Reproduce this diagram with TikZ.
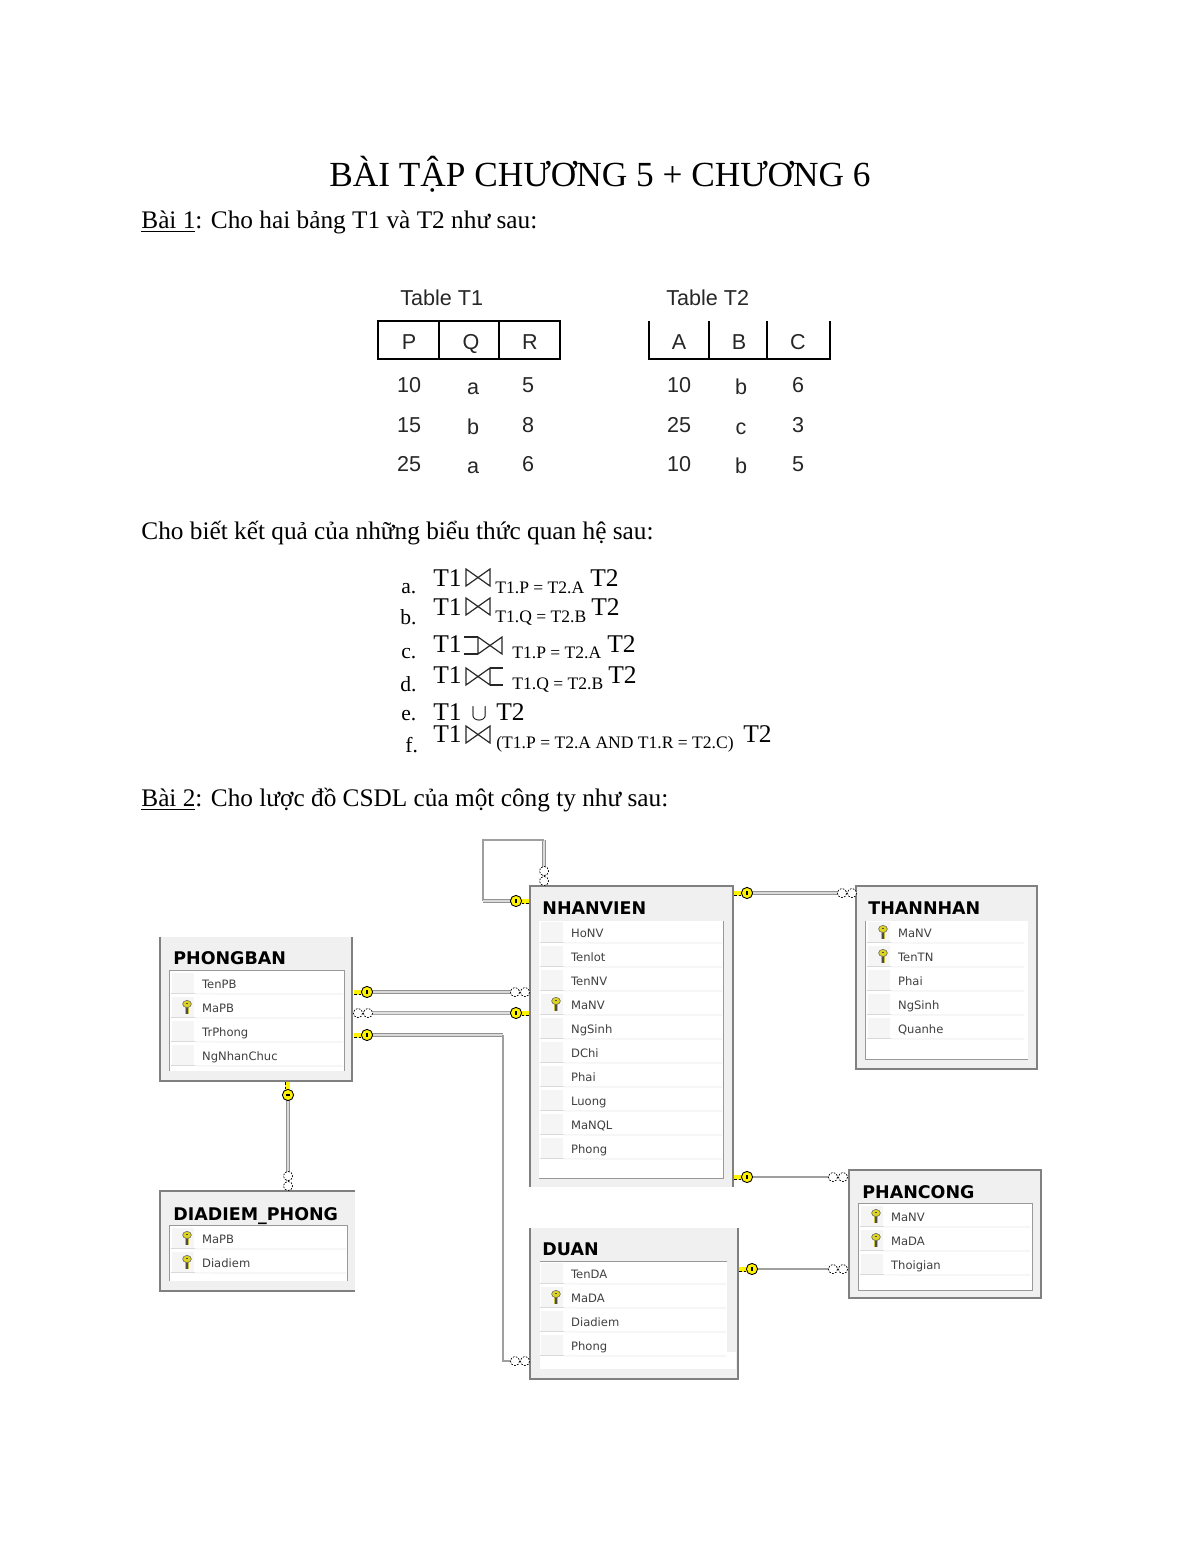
\documentclass[tikz,border=0pt]{standalone}
\usepackage{fontspec}
\setmainfont{Liberation Serif}
\newfontfamily\tablefont{Liberation Sans}
\newfontfamily\erdfont{DejaVu Sans}
\usetikzlibrary{positioning,fit}

\newcommand{\sz}[1]{\fontsize{#1}{#1}\selectfont}

\tikzset{
  % text
  pagetext/.style={anchor=base west,inner sep=0pt,font=\sz{12.9}},
  exprlabel/.style={anchor=base west,inner sep=0pt,font=\sz{11}},
  exprterm/.style={anchor=base west,inner sep=0pt,font=\sz{13}},
  exprsub/.style={anchor=base west,inner sep=0pt,font=\sz{8.95}},
  tabletext/.style={anchor=base,inner sep=0pt,font=\tablefont\sz{11},text=black!85},
  headcell/.style={draw,line width=.8pt,inner sep=0pt},
  joinline/.style={draw=black!85,line width=.6pt},
  % schema
  tablebox/.style={fill=gray!12,inner sep=0pt},
  listbox/.style={fill=white,inner sep=0pt},
  tableline/.style={draw=gray,line width=1pt},
  listline/.style={draw=gray!80,line width=.7pt},
  tablename/.style={anchor=west,inner sep=0pt,font=\erdfont\bfseries\sz{8.9},text height=6.6pt,text depth=.4pt},
  rowsel/.style={fill=gray!8,inner sep=0pt,minimum width=11.7pt,minimum height=10.7pt},
  rowtext/.style={anchor=west,inner sep=0pt,font=\erdfont\sz{5.9},text=black!75,text height=1.5ex,text depth=.3ex},
  relline/.style={draw=gray!85,line width=.5pt,double=gray!30,double distance=1pt},
  thinrel/.style={draw=gray!70,line width=.5pt,double=gray!25,double distance=.7pt},
  plainrel/.style={draw=gray!75,line width=.8pt},
  keymark/.pic={
    \fill[yellow] (-13,-2.2) rectangle (-3,2.6);
    \draw[black,dash pattern=on 1.4pt off 1pt,line width=.4pt] (-13,2.6) -- (-3,2.6);
    \draw[black,line width=.45pt,fill=yellow] (0,0) circle (5.6);
    \fill[black] (-.7,-2) rectangle (.7,2);
  },
  infmark/.pic={
    \draw[black,line width=.35pt,dash pattern=on .9pt off .7pt,fill=white] (-5,0) circle (4.6);
    \draw[black,line width=.35pt,dash pattern=on .9pt off .7pt,fill=white] (5,0) circle (4.6);
  },
  rowkey/.pic={
    \fill[yellow!75!black] (2.2,-1) rectangle (5.8,7);
    \draw[black!60,line width=.3pt,fill=yellow!85!black] (4,-3) ellipse (4.4 and 3.6);
    \fill[black!70] (3.4,1) rectangle (4.6,7);
    \fill[black!70] (3,-4) rectangle (5,-2.6);
  },
  joinmark/.pic={
    \draw[joinline] (0,0) -- (0,-17) -- (24,0) -- (24,-17) -- cycle;
  },
  ljoinmark/.pic={
    \draw[joinline] (0,0) -- (0,-17) -- (24,0) -- (24,-17) -- cycle;
    \draw[joinline] (-14,0) -- (0,0) (-14,-17) -- (0,-17);
  },
  rjoinmark/.pic={
    \draw[joinline] (0,0) -- (0,-17) -- (24,0) -- (24,-17) -- cycle;
    \draw[joinline] (24,0) -- (37,0) (24,-17) -- (37,-17);
  },
}

% prefix, selector x, first row y, right end of row, column names
\newcommand{\tablerows}[5]{
  \foreach \colname [count=\i from 0] in {#5} {
    \node (#1\i) [rowsel] at (#2,{#3+24*\i}) {};
    \node (#1t\i) [rowtext,right=3.5pt of #1\i] {\colname};
    \draw[gray!30,line width=.5pt] (#1\i.south west) -- (#1\i.south east);
    \draw[gray!10,line width=.6pt] (#1\i.south east) -- (#4,{#3+24*\i+11});
  }
}

\begin{document}
\begin{tikzpicture}[x=0.51pt,y=-0.51pt]
  \useasboundingbox (0,0) rectangle (1200,1553);

  % heading
  \node (title) [inner sep=0pt,anchor=base,font=\sz{18}] at (600,187) {BÀI TẬP CHƯƠNG 5 + CHƯƠNG 6};
  \node (bai1) [pagetext] at (141,228) {\underline{Bài 1}: Cho hai bảng T1 và T2 như sau:};
  \node (cau) [pagetext] at (141,539) {Cho biết kết quả của những biểu thức quan hệ sau:};
  \node (bai2) [pagetext] at (141,806) {\underline{Bài 2}: Cho lược đồ CSDL của một công ty như sau:};

  % Table T1
  \node (nameT1) [tabletext,anchor=base west] at (400,305) {Table T1};
  \node (P) [headcell,fit={(378,321)(439,359)}] {};
  \node (Q) [headcell,fit={(439,321)(499,359)}] {};
  \node (R) [headcell,fit={(499,321)(560,359)}] {};
  \node (labelP) [tabletext] at (409,349) {P};
  \node (labelQ) [tabletext] at (471,349) {Q};
  \node (labelR) [tabletext] at (530,349) {R};
  \foreach \vp/\vq/\vr/\yy/\yl in {10/a/5/392/394,15/b/8/432/434,25/a/6/471/473} {
    \node (T1p\yy) [tabletext] at (409,\yy) {\vp};
    \node (T1q\yy) [tabletext] at (473,\yl) {\vq};
    \node (T1r\yy) [tabletext] at (528,\yy) {\vr};
  }

  % Table T2
  \node (nameT2) [tabletext,anchor=base west] at (666,305) {Table T2};
  \draw[line width=.8pt] (649,321) |- (830,359) -- (830,321);
  \draw[line width=.8pt] (709,321) -- (709,359) (767,321) -- (767,359);
  \node (labelA) [tabletext] at (679,349) {A};
  \node (labelB) [tabletext] at (739,349) {B};
  \node (labelC) [tabletext] at (798,349) {C};
  \foreach \va/\vb/\vc/\yy/\yl in {10/b/6/392/394,25/c/3/432/434,10/b/5/471/473} {
    \node (T2a\yy) [tabletext] at (679,\yy) {\va};
    \node (T2b\yy) [tabletext] at (741,\yl) {\vb};
    \node (T2c\yy) [tabletext] at (798,\yy) {\vc};
  }

  % bieu thuc
  \node (la) [exprlabel] at (401,593) {a.};
  \node (a1) [exprterm] at (433,586) {T1};
  \pic at (466,586) {joinmark};
  \node (as) [exprsub] at (495,593) {T1.P = T2.A};
  \node (a2) [exprterm] at (590,586) {T2};

  \node (lb) [exprlabel] at (400,624) {b.};
  \node (b1) [exprterm] at (433,615) {T1};
  \pic at (466,615) {joinmark};
  \node (bs) [exprsub] at (495,622) {T1.Q = T2.B};
  \node (b2) [exprterm] at (591,615) {T2};

  \node (lc) [exprlabel] at (401,658) {c.};
  \node (c1) [exprterm] at (433,652) {T1};
  \pic at (478,654) {ljoinmark};
  \node (cs) [exprsub] at (512,658) {T1.P = T2.A};
  \node (c2) [exprterm] at (607,652) {T2};

  \node (ld) [exprlabel] at (400,691) {d.};
  \node (d1) [exprterm] at (433,683) {T1};
  \pic at (466,685) {rjoinmark};
  \node (ds) [exprsub] at (512,689) {T1.Q = T2.B};
  \node (d2) [exprterm] at (608,683) {T2};

  \node (le) [exprlabel] at (401,720) {e.};
  \node (e1) [exprterm] at (433,720) {T1};
  \node (eu) [exprterm,font=\sz{13}] at (471,720) {$\cup$};
  \node (e2) [exprterm] at (496,720) {T2};

  \node (lf) [exprlabel] at (405,752) {f.};
  \node (f1) [exprterm] at (433,742) {T1};
  \pic at (466,743) {joinmark};
  \node (fs) [exprsub] at (496,748) {(T1.P = T2.A AND T1.R = T2.C)};
  \node (f2) [exprterm] at (743,742) {T2};

  % bang
  \node (PHONGBAN) [tablebox,fit={(160,937)(352,1081)}] {};
  \node (DIADIEM) [tablebox,fit={(160,1191)(355,1291)}] {};
  \node (NHANVIEN) [tablebox,fit={(530,886)(733,1187)}] {};
  \node (THANNHAN) [tablebox,fit={(856,886)(1037,1069)}] {};
  \node (PHANCONG) [tablebox,fit={(849,1170)(1041,1298)}] {};
  \node (DUAN) [tablebox,fit={(530,1228)(738,1379)}] {};

  \draw[tableline] (PHONGBAN.north west) |- (PHONGBAN.south east) -- (PHONGBAN.north east);
  \draw[tableline] (DIADIEM.north east) -- (DIADIEM.north west) |- (DIADIEM.south east);
  \draw[tableline] (NHANVIEN.south west) |- (NHANVIEN.north east) -- (NHANVIEN.south east);
  \draw[tableline] (THANNHAN.north west) rectangle (THANNHAN.south east);
  \draw[tableline] (PHANCONG.north west) rectangle (PHANCONG.south east);
  \draw[tableline] (DUAN.north west) |- (DUAN.south east) -- (DUAN.north east);

  \node (PBlist) [listbox,fit={(170,971)(344,1071)}] {};
  \node (DDlist) [listbox,fit={(170,1226)(347,1281)}] {};
  \node (NVlist) [listbox,fit={(539,921)(723,1178)}] {};
  \node (TNlist) [listbox,fit={(866,921)(1028,1059)}] {};
  \node (PClist) [listbox,fit={(859,1204)(1032,1290)}] {};
  \node (DAlist) [listbox,fit={(540,1262)(727,1352)}] {};
  \node (DAfoot) [listbox,fit={(540,1352)(736,1369)}] {};

  \draw[listline] (PBlist.south west) |- (PBlist.north east) -- (PBlist.south east);
  \draw[listline] (DDlist.south west) |- (DDlist.north east) -- (DDlist.south east);
  \draw[listline] (NVlist.north east) |- (NVlist.south west);
  \draw[listline] (TNlist.north west) |- (TNlist.south east);
  \draw[listline] (PClist.north west) rectangle (PClist.south east);
  \draw[listline] (DAlist.north west) -- (DAlist.north east);

  \node (PBname) [tablename] at (173,958) {PHONGBAN};
  \node (DDname) [tablename] at (173,1214) {DIADIEM\_PHONG};
  \node (NVname) [tablename] at (542,908) {NHANVIEN};
  \node (TNname) [tablename] at (868,908) {THANNHAN};
  \node (PCname) [tablename] at (862,1192) {PHANCONG};
  \node (DAname) [tablename] at (542,1249) {DUAN};

  \tablerows{PB}{183}{983}{343}{TenPB,MaPB,TrPhong,NgNhanChuc}
  \tablerows{DD}{183}{1238}{346}{MaPB,Diadiem}
  \tablerows{NV}{552}{932}{722}{HoNV,Tenlot,TenNV,MaNV,NgSinh,DChi,Phai,Luong,MaNQL,Phong}
  \tablerows{TN}{879}{932}{1024}{MaNV,TenTN,Phai,NgSinh,Quanhe}
  \tablerows{PC}{872}{1216}{1030}{MaNV,MaDA,Thoigian}
  \tablerows{DA}{552}{1273}{726}{TenDA,MaDA,Diadiem,Phong}

  \pic at (PB1) {rowkey};
  \pic at (DD0) {rowkey};
  \pic at (DD1) {rowkey};
  \pic at (NV3) {rowkey};
  \pic at (TN0) {rowkey};
  \pic at (TN1) {rowkey};
  \pic at (PC0) {rowkey};
  \pic at (PC1) {rowkey};
  \pic at (DA1) {rowkey};

  % dau noi
  \coordinate (keyPBNV) at (367,992);
  \coordinate (infPBNV) at (520,992);
  \coordinate (infNVPB) at (363,1013);
  \coordinate (keyNVPB) at (516,1013);
  \coordinate (keyPBDA) at (367,1035);
  \coordinate (cornerPBDA) at (503,1035);
  \coordinate (bendPBDA) at (503,1361);
  \coordinate (infPBDA) at (520,1361);
  \coordinate (keyPBDD) at (288,1095);
  \coordinate (infPBDD) at (288,1181);
  \coordinate (keySelf) at (516,901);
  \coordinate (infSelf) at (544,876);
  \coordinate (topSelf) at (544,840);
  \coordinate (loopSelf) at (483,840);
  \coordinate (leftSelf) at (483,901);
  \coordinate (keyNVTN) at (747,893);
  \coordinate (infNVTN) at (847,893);
  \coordinate (keyNVPC) at (747,1177);
  \coordinate (infNVPC) at (838,1177);
  \coordinate (keyDAPC) at (752,1269);
  \coordinate (infDAPC) at (838,1269);

  % quan he
  \draw[relline] (keyPBNV) -- (infPBNV);
  \draw[thinrel] (infNVPB) -- (keyNVPB);
  \draw[relline] (keyPBDA) -- (cornerPBDA);
  \draw[plainrel] (cornerPBDA) -- (bendPBDA) -- (infPBDA);
  \draw[relline] (keyPBDD) -- (infPBDD);
  \draw[relline] (infSelf) -- (topSelf);
  \draw[plainrel] (topSelf) -- (loopSelf) -- (leftSelf);
  \draw[relline] (leftSelf) -- (keySelf);
  \draw[relline] (keyNVTN) -- (infNVTN);
  \draw[plainrel] (keyNVPC) -- (infNVPC);
  \draw[plainrel] (keyDAPC) -- (infDAPC);

  \pic at (keyPBNV) {keymark};
  \pic at (infPBNV) {infmark};
  \pic at (infNVPB) {infmark};
  \pic[xscale=-1] at (keyNVPB) {keymark};
  \pic at (keyPBDA) {keymark};
  \pic at (infPBDA) {infmark};
  \pic[rotate=-90] at (keyPBDD) {keymark};
  \pic[rotate=90] at (infPBDD) {infmark};
  \pic[xscale=-1] at (keySelf) {keymark};
  \pic[rotate=90] at (infSelf) {infmark};
  \pic at (keyNVTN) {keymark};
  \pic at (infNVTN) {infmark};
  \pic at (keyNVPC) {keymark};
  \pic at (infNVPC) {infmark};
  \pic at (keyDAPC) {keymark};
  \pic at (infDAPC) {infmark};
\end{tikzpicture}
\end{document}
